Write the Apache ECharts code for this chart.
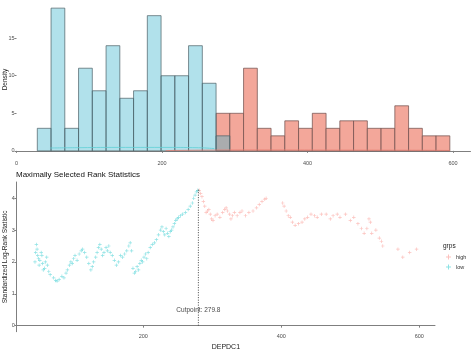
<!DOCTYPE html>
<html>
<head>
<meta charset="utf-8" />
<title>DEPDC1 cutpoint</title>
<script src="https://cdn.jsdelivr.net/npm/echarts@6.0.0/dist/echarts.min.js"></script>
<style>
  html, body { margin: 0; padding: 0; background: #fff; }
  #main { width: 474px; height: 353px; }
</style>
</head>
<body>
<div id="main"></div>
<script>
// histogram bins (ggplot bins = 30)
var binStart = 28.6;
var binWidth = 18.9;
var lowCounts  = [3, 19, 3, 11, 8, 14, 7, 8, 18, 10, 10, 14, 9, 2, 0, 0, 0, 0, 0, 0, 0, 0, 0, 0, 0, 0, 0, 0, 0, 0];
var highCounts = [0, 0, 0, 0, 0, 0, 0, 0, 0, 0, 0, 0, 0, 5, 5, 11, 3, 2, 4, 3, 5, 3, 4, 4, 3, 3, 6, 3, 2, 2];

// faint density curves near zero
var lowDensity  = [[46, 0.38], [80, 0.42], [140, 0.46], [200, 0.46], [250, 0.42], [272, 0.3]];
var highDensity = [[205, 0.04], [260, 0.1], [330, 0.12], [450, 0.1], [560, 0.08], [596, 0.05]];

// maximally selected rank statistics: [DEPDC1, statistic]
var lowPoints = [
  [43, 2.0], [44, 2.3], [45, 2.55], [46, 2.4], [47, 2.2], [48, 2.1], [49, 1.9], [50, 2.05],
  [52, 2.3], [53, 2.2], [54, 1.95], [55, 1.75], [57, 1.8], [58, 2.0], [60, 2.15], [61, 1.9],
  [63, 1.7], [65, 1.6], [70, 1.5], [73, 1.42], [75, 1.4], [78, 1.45], [82, 1.55], [85, 1.5],
  [88, 1.65], [90, 1.75], [93, 1.9], [95, 2.0], [97, 1.95], [99, 2.1], [101, 2.2], [104, 2.05],
  [107, 2.25], [110, 2.35], [112, 2.4], [115, 2.3], [118, 2.15], [121, 1.95], [124, 1.75], [126, 1.85],
  [128, 2.0], [131, 2.15], [133, 2.3], [135, 2.45], [137, 2.55], [139, 2.4], [141, 2.2], [143, 2.3],
  [146, 2.45], [148, 2.35], [150, 2.5], [152, 2.3], [155, 2.2], [158, 2.05], [161, 1.9], [164, 2.0],
  [167, 2.2], [170, 2.15], [173, 2.25], [176, 2.35], [179, 2.5], [181, 2.6], [183, 2.35], [185, 1.8],
  [187, 1.65], [189, 1.7], [191, 1.85], [193, 1.75], [195, 1.95], [197, 2.05], [199, 2.0], [201, 2.15],
  [203, 2.25], [205, 2.1], [207, 2.3], [210, 2.45], [213, 2.55], [216, 2.6], [219, 2.7], [222, 2.85],
  [225, 3.0], [227, 3.1], [229, 2.95], [231, 2.85], [233, 3.05], [235, 2.9], [237, 2.8], [239, 2.95],
  [241, 3.0], [243, 3.1], [245, 3.2], [247, 3.3], [249, 3.35], [251, 3.4], [254, 3.45], [257, 3.5],
  [261, 3.55], [265, 3.65], [268, 3.75], [271, 3.85], [273, 4.0], [275, 4.1], [277, 4.2], [279, 4.25]
];
var highPoints = [
  [281, 4.25], [283, 4.15], [285, 4.05], [287, 3.9], [289, 3.75], [291, 3.55], [293, 3.6], [295, 3.65],
  [297, 3.5], [299, 3.35], [301, 3.3], [304, 3.45], [307, 3.5], [311, 3.4], [315, 3.55], [318, 3.65],
  [320, 3.7], [322, 3.6], [325, 3.5], [327, 3.35], [329, 3.45], [332, 3.55], [336, 3.45], [340, 3.55],
  [343, 3.6], [348, 3.45], [353, 3.55], [359, 3.6], [364, 3.7], [368, 3.8], [372, 3.9], [376, 3.97],
  [378, 4.0], [402, 3.85], [404, 3.75], [407, 3.6], [410, 3.45], [413, 3.4], [416, 3.25], [420, 3.15],
  [425, 3.2], [430, 3.25], [434, 3.35], [438, 3.4], [443, 3.5], [448, 3.45], [452, 3.4], [458, 3.5],
  [465, 3.5], [471, 3.35], [475, 3.45], [481, 3.5], [485, 3.4], [493, 3.5], [500, 3.3], [505, 3.4],
  [511, 3.2], [516, 3.05], [520, 2.9], [524, 3.05], [527, 3.35], [529, 3.25], [531, 2.9], [537, 3.0],
  [542, 2.75], [545, 2.65], [547, 2.5], [569, 2.4], [576, 2.15], [586, 2.3], [596, 2.4]
];
var cutpoint = 279.8;
var cutTop = 4.29;

var histTicks = [0, 200, 400, 600];
var histYTicks = [0, 5, 10, 15];
var statXTicks = [200, 400, 600];
var statYTicks = [0, 1, 2, 3, 4];

function binData(counts) {
  var out = [];
  counts.forEach(function (c, i) {
    if (c > 0) out.push([binStart + i * binWidth, binStart + (i + 1) * binWidth, c]);
  });
  return out;
}

function renderBin(params, api) {
  var p0 = api.coord([api.value(0), api.value(2)]);
  var p1 = api.coord([api.value(1), 0]);
  return {
    type: 'rect',
    shape: { x: p0[0], y: p0[1], width: p1[0] - p0[0], height: p1[1] - p0[1] },
    style: api.style()
  };
}

var plus = 'path://M4,0H6V4H10V6H6V10H4V6H0V4H4Z';
var font = 'Liberation Sans';
var tickColor = '#4D4D4D';
var axisGray = '#7F7F7F';

var myChart = echarts.init(document.getElementById('main'));

var option = {
  animation: false,
  textStyle: { fontFamily: font },
  title: {
    text: 'Maximally Selected Rank Statistics',
    left: 16, top: 171, padding: 0,
    textStyle: { fontSize: 8, fontWeight: 'normal', color: '#111', fontFamily: font }
  },
  legend: {
    orient: 'vertical',
    left: 446, top: 254, padding: 0,
    itemWidth: 5, itemHeight: 5, itemGap: 4,
    textStyle: { fontSize: 5.5, color: '#333', fontFamily: font },
    data: ['high', 'low']
  },
  graphic: [{
    type: 'text', left: 443, top: 243,
    style: { text: 'grps', fontSize: 6.5, fill: '#222', fontFamily: font }
  }],
  grid: [
    { left: 16.5, right: 3.5, top: 1, height: 157, outerBoundsMode: 'none', containLabel: false },
    { left: 16.7, right: 39, top: 182, height: 149.7, outerBoundsMode: 'none', containLabel: false }
  ],
  xAxis: [
    {
      gridIndex: 0, type: 'value', min: 0, max: 624,
      axisLine: { show: true, lineStyle: { color: axisGray, width: 1 } },
      axisTick: { show: true, length: 2, customValues: histTicks, lineStyle: { color: axisGray } },
      axisLabel: { customValues: histTicks, fontSize: 5.5, color: tickColor, margin: 2 },
      splitLine: { show: false }
    },
    {
      gridIndex: 1, type: 'value', min: 16.5, max: 622.7,
      name: 'DEPDC1', nameLocation: 'middle', nameGap: 12, nameMoveOverlap: false,
      nameTextStyle: { fontSize: 7, color: '#222' },
      axisLine: { show: true, lineStyle: { color: axisGray, width: 1 } },
      axisTick: { show: true, length: 2, customValues: statXTicks, lineStyle: { color: axisGray } },
      axisLabel: { customValues: statXTicks, fontSize: 5.5, color: tickColor, margin: 2 },
      splitLine: { show: false }
    }
  ],
  yAxis: [
    {
      gridIndex: 0, type: 'value', min: -0.95, max: 19.95,
      name: 'Density', nameLocation: 'middle', nameGap: 8, nameMoveOverlap: false,
      nameTextStyle: { fontSize: 6.5, color: '#222' },
      axisLine: { show: false },
      axisTick: { show: true, length: 2, customValues: histYTicks, lineStyle: { color: axisGray } },
      axisLabel: { customValues: histYTicks, fontSize: 5.5, color: tickColor, margin: 2 },
      splitLine: { show: false }
    },
    {
      gridIndex: 1, type: 'value', min: -0.19, max: 4.51,
      name: 'Standardized Log-Rank Statistic', nameLocation: 'middle', nameGap: 8, nameMoveOverlap: false,
      nameTextStyle: { fontSize: 6.5, color: '#222' },
      axisLine: { show: true, lineStyle: { color: axisGray, width: 1 } },
      axisTick: { show: true, length: 2, customValues: statYTicks, lineStyle: { color: axisGray } },
      axisLabel: { customValues: statYTicks, fontSize: 5.5, color: tickColor, margin: 2 },
      splitLine: { show: false }
    }
  ],
  series: [
    {
      type: 'custom', xAxisIndex: 0, yAxisIndex: 0,
      renderItem: renderBin, data: binData(highCounts),
      encode: { x: [0, 1], y: 2 },
      itemStyle: { color: '#F3A79A', borderColor: '#6A4A48', borderWidth: 0.7 }
    },
    {
      type: 'custom', xAxisIndex: 0, yAxisIndex: 0,
      renderItem: renderBin, data: binData(lowCounts),
      encode: { x: [0, 1], y: 2 },
      itemStyle: { color: 'rgba(60,180,205,0.4)', borderColor: '#4A5E64', borderWidth: 0.7 }
    },
    {
      type: 'line', xAxisIndex: 0, yAxisIndex: 0, data: lowDensity,
      symbol: 'none', smooth: true, silent: true,
      lineStyle: { color: '#5FCFD6', width: 0.8 }
    },
    {
      type: 'line', xAxisIndex: 0, yAxisIndex: 0, data: highDensity,
      symbol: 'none', smooth: true, silent: true,
      lineStyle: { color: '#E87F72', width: 0.8 }
    },
    {
      name: 'high', type: 'scatter', xAxisIndex: 1, yAxisIndex: 1,
      data: highPoints, symbol: plus, symbolSize: 3.5,
      itemStyle: { color: '#F8766D', opacity: 0.45 }
    },
    {
      name: 'low', type: 'scatter', xAxisIndex: 1, yAxisIndex: 1,
      data: lowPoints, symbol: plus, symbolSize: 3.5,
      itemStyle: { color: '#00BFC4', opacity: 0.45 }
    },
    {
      type: 'line', xAxisIndex: 1, yAxisIndex: 1,
      data: [[cutpoint, 0], [cutpoint, cutTop]],
      symbol: 'none', silent: true,
      lineStyle: { color: '#444', width: 1, type: [1, 1.5] }
    },
    {
      type: 'scatter', xAxisIndex: 1, yAxisIndex: 1,
      data: [[cutpoint, 0.5]], symbolSize: 0, silent: true,
      label: {
        show: true, position: 'inside', formatter: 'Cutpoint: ' + cutpoint,
        fontSize: 6.5, color: '#111', fontFamily: font
      }
    }
  ]
};

myChart.setOption(option);
</script>
</body>
</html>
